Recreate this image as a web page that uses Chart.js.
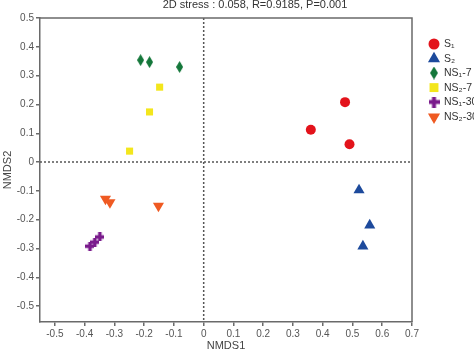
<!DOCTYPE html>
<html>
<head>
<meta charset="utf-8">
<script src="https://cdn.jsdelivr.net/npm/chart.js@4/dist/chart.umd.min.js"></script>
<style>
  html, body { margin: 0; padding: 0; background: #fff; }
  #c { display: block; }
</style>
</head>
<body>
<canvas id="c" width="474" height="353"></canvas>
<script>
// ---- data ----
const seriesNames = ['S\u2081', 'S\u2082', 'NS\u2081-7', 'NS\u2082-7', 'NS\u2081-30', 'NS\u2082-30'];
const s1X = [0.36, 0.475, 0.49];
const s1Y = [0.112, 0.208, 0.062];
const s2X = [0.522, 0.558, 0.535];
const s2Y = [-0.097, -0.219, -0.292];
const ns17X = [-0.212, -0.182, -0.081];
const ns17Y = [0.354, 0.347, 0.33];
const ns27X = [-0.148, -0.182, -0.249];
const ns27Y = [0.26, 0.174, 0.038];
const ns130X = [-0.382, -0.366, -0.349];
const ns130Y = [-0.292, -0.278, -0.26];
const ns230X = [-0.33, -0.315, -0.152];
const ns230Y = [-0.128, -0.14, -0.152];
const xTicks = [-0.5, -0.4, -0.3, -0.2, -0.1, 0, 0.1, 0.2, 0.3, 0.4, 0.5, 0.6, 0.7];
const yTicks = [-0.5, -0.4, -0.3, -0.2, -0.1, 0, 0.1, 0.2, 0.3, 0.4, 0.5];
const titleText = '2D stress : 0.058, R=0.9185, P=0.001';
const xTitle = 'NMDS1';
const yTitle = 'NMDS2';

// ---- styles ----
const colors = ['#e3131b', '#1d4a9c', '#14773a', '#f3e61c', '#7a1b8c', '#ef5a22'];
const FONT = "'Liberation Sans', Arial, sans-serif";

function diamondCanvas(w, h, color) {
  const c = document.createElement('canvas');
  c.width = w; c.height = h;
  const g = c.getContext('2d');
  g.fillStyle = color;
  g.beginPath();
  g.moveTo(w / 2, 0); g.lineTo(w, h / 2); g.lineTo(w / 2, h); g.lineTo(0, h / 2);
  g.closePath(); g.fill();
  return c;
}
function plusCanvas(s, t, color) {
  const c = document.createElement('canvas');
  c.width = s; c.height = s;
  const g = c.getContext('2d');
  g.fillStyle = color;
  g.fillRect((s - t) / 2, 0, t, s);
  g.fillRect(0, (s - t) / 2, s, t);
  return c;
}

const plotStyles = [
  { pointStyle: 'circle', radius: 5, rotation: 0 },
  { pointStyle: 'triangle', radius: 6.4, rotation: 0 },
  { pointStyle: diamondCanvas(7, 12, colors[2]), radius: 6, rotation: 0 },
  { pointStyle: 'rect', radius: 5, rotation: 0 },
  { pointStyle: plusCanvas(9, 3.5, colors[4]), radius: 5, rotation: 0 },
  { pointStyle: 'triangle', radius: 6.4, rotation: 180 }
];
const legendStyles = [
  { pointStyle: 'circle', radius: 5.5, rotation: 0 },
  { pointStyle: 'triangle', radius: 7, rotation: 0 },
  { pointStyle: diamondCanvas(8, 13, colors[2]), radius: 6, rotation: 0 },
  { pointStyle: 'rect', radius: 6.3, rotation: 0 },
  { pointStyle: plusCanvas(11, 4, colors[4]), radius: 6, rotation: 0 },
  { pointStyle: 'triangle', radius: 7, rotation: 180 }
];

const xs = [s1X, s2X, ns17X, ns27X, ns130X, ns230X];
const ys = [s1Y, s2Y, ns17Y, ns27Y, ns130Y, ns230Y];

const datasets = seriesNames.map((name, i) => ({
  label: name,
  data: xs[i].map((x, j) => ({ x: x, y: ys[i][j] })),
  backgroundColor: colors[i],
  borderColor: colors[i],
  borderWidth: 0,
  pointStyle: plotStyles[i].pointStyle,
  pointRadius: plotStyles[i].radius,
  pointRotation: plotStyles[i].rotation,
  showLine: false
}));

const decorPlugin = {
  id: 'decor',
  beforeDatasetsDraw(chart) {
    const { ctx, chartArea: a, scales } = chart;
    const x0 = scales.x.getPixelForValue(0);
    const y0 = scales.y.getPixelForValue(0);
    ctx.save();
    ctx.strokeStyle = '#555';
    ctx.lineWidth = 1.5;
    ctx.setLineDash([2, 2]);
    ctx.beginPath();
    ctx.moveTo(x0, a.top); ctx.lineTo(x0, a.bottom);
    ctx.moveTo(a.left, y0); ctx.lineTo(a.right, y0);
    ctx.stroke();
    ctx.restore();
  },
  afterDraw(chart) {
    const { ctx, chartArea: a } = chart;
    ctx.save();
    // box (top and right)
    ctx.strokeStyle = '#6a6a6a';
    ctx.lineWidth = 1.5;
    ctx.beginPath();
    ctx.moveTo(a.left, a.top); ctx.lineTo(a.right, a.top); ctx.lineTo(a.right, a.bottom);
    ctx.stroke();
    // title
    ctx.fillStyle = '#333';
    ctx.font = '11px ' + FONT;
    ctx.textAlign = 'center';
    ctx.textBaseline = 'middle';
    ctx.fillText(titleText, 255, 5);
    // legend
    const lx = 434, ltx = 444;
    const ly = [44, 58.7, 73, 87.6, 102, 117];
    ctx.font = '10.5px ' + FONT;
    ctx.textAlign = 'left';
    ctx.fillStyle = '#333';
    seriesNames.forEach((name, i) => {
      ctx.fillStyle = colors[i];
      ctx.strokeStyle = colors[i];
      Chart.helpers.drawPoint(ctx, {
        pointStyle: legendStyles[i].pointStyle,
        radius: legendStyles[i].radius,
        rotation: legendStyles[i].rotation,
        borderWidth: 0
      }, lx, ly[i]);
      ctx.fillStyle = '#333';
      ctx.fillText(name, ltx, ly[i] + 0.5);
    });
    ctx.restore();
  }
};

const tickFmt = v => {
  const r = Math.round(v * 10) / 10;
  return r === 0 ? '0' : String(r);
};

new Chart(document.getElementById('c'), {
  type: 'scatter',
  data: { datasets: datasets },
  options: {
    responsive: false,
    animation: false,
    events: [],
    layout: { padding: { top: 18, right: 62, left: 0, bottom: 0 } },
    plugins: { legend: { display: false }, tooltip: { enabled: false }, title: { display: false } },
    scales: {
      x: {
        type: 'linear',
        min: -0.55, max: 0.7,
        afterFit(s) { s.height = 31; },
        afterBuildTicks(s) { s.ticks = xTicks.map(v => ({ value: v })); },
        ticks: { callback: tickFmt, color: '#555', font: { size: 10, family: FONT }, padding: 2, maxRotation: 0, autoSkip: false },
        grid: { display: true, drawOnChartArea: false, drawTicks: true, tickLength: 4, color: '#6a6a6a', lineWidth: 1.5 },
        border: { display: true, color: '#6a6a6a', width: 1.5 },
        title: { display: true, text: xTitle, color: '#444', font: { size: 11, family: FONT }, padding: { top: 1, bottom: 0 } }
      },
      y: {
        type: 'linear',
        min: -0.555, max: 0.5,
        afterFit(s) { s.width = 40; },
        afterBuildTicks(s) { s.ticks = yTicks.map(v => ({ value: v })); },
        ticks: { callback: tickFmt, color: '#555', font: { size: 10, family: FONT }, padding: 2, autoSkip: false },
        grid: { display: true, drawOnChartArea: false, drawTicks: true, tickLength: 4, color: '#6a6a6a', lineWidth: 1.5 },
        border: { display: true, color: '#6a6a6a', width: 1.5 },
        title: { display: true, text: yTitle, color: '#444', font: { size: 11, family: FONT }, padding: { top: 1, bottom: 0 } }
      }
    }
  },
  plugins: [decorPlugin]
});
</script>
</body>
</html>
